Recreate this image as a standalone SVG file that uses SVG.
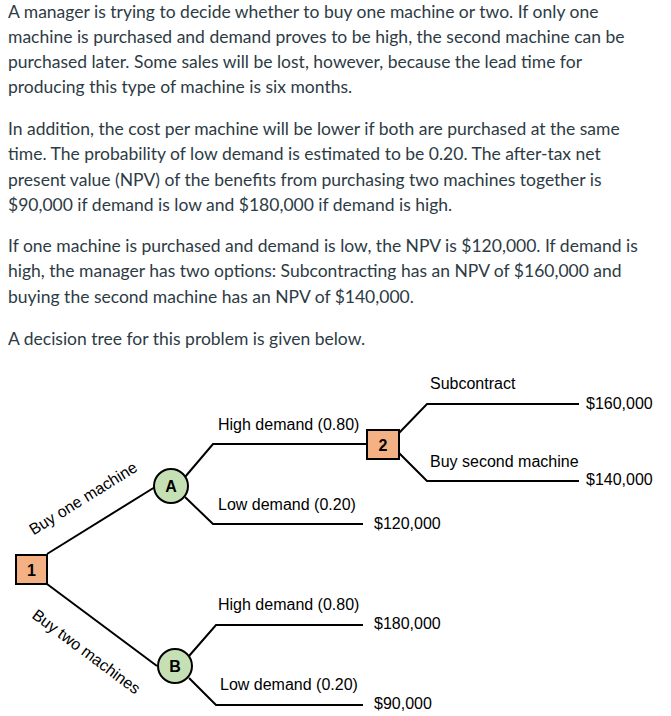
<svg xmlns="http://www.w3.org/2000/svg" width="671" height="716" viewBox="0 0 671 716">
<style>
.p{font-family:Lato,"Liberation Sans",sans-serif;font-size:17.5px;fill:#2D3B45}
.t{font-family:"Liberation Sans",Arial,sans-serif;font-size:16px;fill:#000}
.n{font-family:"Liberation Sans",Arial,sans-serif;font-size:16px;font-weight:bold;fill:#000;text-anchor:middle}
.dec{fill:#F4B183;stroke:#000;stroke-width:2}
.ch{fill:#C5E0B4;stroke:#000;stroke-width:2}
.e{fill:none;stroke:#000;stroke-width:2}
</style>
<rect width="671" height="716" fill="#fff"/>
<g id="text">
<text class="p" x="8" y="18">A manager is trying to decide whether to buy one machine or two. If only one</text>
<text class="p" x="8" y="43">machine is purchased and demand proves to be high, the second machine can be</text>
<text class="p" x="8" y="68">purchased later. Some sales will be lost, however, because the lead time for</text>
<text class="p" x="8" y="93">producing this type of machine is six months.</text>
<text class="p" x="8" y="135">In addition, the cost per machine will be lower if both are purchased at the same</text>
<text class="p" x="8" y="160">time. The probability of low demand is estimated to be 0.20. The after-tax net</text>
<text class="p" x="8" y="186">present value (NPV) of the benefits from purchasing two machines together is</text>
<text class="p" x="8" y="211">$90,000 if demand is low and $180,000 if demand is high.</text>
<text class="p" x="8" y="252">If one machine is purchased and demand is low, the NPV is $120,000. If demand is</text>
<text class="p" x="8" y="277">high, the manager has two options: Subcontracting has an NPV of $160,000 and</text>
<text class="p" x="8" y="303">buying the second machine has an NPV of $140,000.</text>
<text class="p" x="8" y="345">A decision tree for this problem is given below.</text>
</g>
<g id="connectors">
<path class="e" d="M47,554 L155,487"/>
<path class="e" d="M47,584 L157,666"/>
<path class="e" d="M185,477 L213,444 L367,444"/>
<path class="e" d="M185,497 L213,524 L363,524"/>
<path class="e" d="M189,656 L216,625 L363,625"/>
<path class="e" d="M189,678 L216,705 L363,705"/>
<path class="e" d="M399,433 L427,404 L579,404"/>
<path class="e" d="M399,453 L427,481 L579,481"/>
</g>
<g id="edge-labels">
<text class="t" transform="translate(86,503) rotate(-31.8)" text-anchor="middle">Buy one machine</text>
<text class="t" transform="translate(83,656) rotate(36.7)" text-anchor="middle">Buy two machines</text>
<text class="t" x="218" y="430">High demand (0.80)</text>
<text class="t" x="218" y="510">Low demand (0.20)</text>
<text class="t" x="218" y="610">High demand (0.80)</text>
<text class="t" x="220" y="690">Low demand (0.20)</text>
<text class="t" x="430" y="389">Subcontract</text>
<text class="t" x="430" y="467">Buy second machine</text>
<text class="t" x="586" y="409">$160,000</text>
<text class="t" x="586" y="485">$140,000</text>
<text class="t" x="374" y="529">$120,000</text>
<text class="t" x="374" y="629">$180,000</text>
<text class="t" x="374" y="709">$90,000</text>
</g>
<g id="node-1"><rect class="dec" x="16" y="555" width="31" height="29"/><text class="n" x="31.5" y="575.5">1</text></g>
<g id="node-2"><rect class="dec" x="367" y="430" width="32" height="29"/><text class="n" x="383" y="450.5">2</text></g>
<g id="node-A"><circle class="ch" cx="171" cy="486" r="17"/><text class="n" x="171" y="492">A</text></g>
<g id="node-B"><circle class="ch" cx="175" cy="666" r="17"/><text class="n" x="175" y="672">B</text></g>
</svg>
